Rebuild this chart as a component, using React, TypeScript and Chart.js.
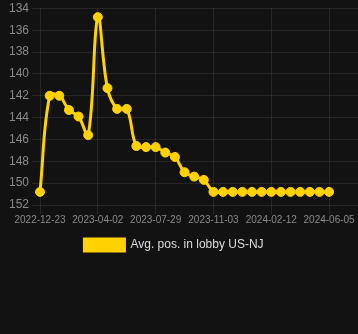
import React, { useEffect, useRef } from "react";
import { Chart, registerables } from "chart.js";

Chart.register(...registerables);

const dates: string[] = [
  "2022-12-23", "2023-01-09", "2023-01-26", "2023-02-12", "2023-03-01", "2023-03-17",
  "2023-04-02", "2023-04-22", "2023-05-12", "2023-05-31", "2023-06-20", "2023-07-09",
  "2023-07-29", "2023-08-14", "2023-08-30", "2023-09-15", "2023-10-01", "2023-10-17",
  "2023-11-03", "2023-11-20", "2023-12-07", "2023-12-24", "2024-01-09", "2024-01-26",
  "2024-02-12", "2024-03-02", "2024-03-21", "2024-04-09", "2024-04-28", "2024-05-17",
  "2024-06-05", "2024-06-24", "2024-07-13", "2024-08-01",
];

const avgPos: number[] = [
  150.8, 142.0, 142.0, 143.3, 143.9, 145.6,
  134.8, 141.3, 143.2, 143.2, 146.6, 146.7,
  146.7, 147.2, 147.6, 149.0, 149.4, 149.7,
  150.8, 150.8, 150.8, 150.8, 150.8, 150.8,
  150.8, 150.8, 150.8, 150.8, 150.8, 150.8,
  150.8,
];

const seriesLabel = "Avg. pos. in lobby US-NJ";
const yMin = 134;
const yMax = 152;
const labelEvery = 6;
const lastLabelled = 30;

const YELLOW = "#FFD200";
const GRID = "rgba(255,255,255,0.09)";
const TICK = "#8a8a8a";

const legendShift = {
  id: "legendShift",
  afterLayout(chart: any) {
    const lg = chart.legend;
    if (lg) {
      lg.left -= 8;
      lg.right -= 8;
    }
  },
};

export default function App() {
  const ref = useRef<HTMLCanvasElement | null>(null);

  useEffect(() => {
    if (!ref.current) return;
    const shown = (i: number) => i % labelEvery === 0 && i <= lastLabelled;
    const chart = new Chart(ref.current, {
      type: "line",
      data: {
        labels: dates,
        datasets: [
          {
            label: seriesLabel,
            data: avgPos,
            borderColor: YELLOW,
            backgroundColor: YELLOW,
            pointBackgroundColor: YELLOW,
            pointBorderColor: YELLOW,
            borderWidth: 3,
            pointRadius: 4.5,
            pointBorderWidth: 1,
            tension: 0.4,
          },
        ],
      },
      plugins: [legendShift],
      options: {
        animation: false,
        responsive: true,
        maintainAspectRatio: false,
        layout: { autoPadding: false, padding: { left: 6, right: 0, top: 0, bottom: 0 } },
        plugins: {
          legend: {
            position: "bottom",
            labels: {
              color: "#dddddd",
              font: { size: 12, family: "Arial, 'Liberation Sans', sans-serif" },
              boxWidth: 40,
              boxHeight: 12,
            },
          },
          tooltip: { enabled: false },
        },
        scales: {
          x: {
            type: "category",
            afterFit: (s: any) => {
              s.height += 3;
            },
            grid: {
              color: (ctx: any) => (shown(ctx.index) ? GRID : "rgba(0,0,0,0)"),
              tickLength: 9,
            },
            border: { display: false },
            ticks: {
              autoSkip: false,
              maxRotation: 0,
              padding: 0,
              color: TICK,
              font: { size: 10, family: "Arial, 'Liberation Sans', sans-serif" },
              callback: (_v: any, i: number) => (shown(i) ? dates[i] : ""),
            },
          },
          y: {
            reverse: true,
            min: yMin,
            max: yMax,
            grid: { color: GRID, tickLength: 8 },
            border: { display: false },
            ticks: {
              stepSize: 2,
              color: TICK,
              font: { size: 12, lineHeight: 0.9, family: "Arial, 'Liberation Sans', sans-serif" },
            },
          },
        },
      },
    });
    return () => chart.destroy();
  }, []);

  return (
    <div style={{ position: "fixed", left: 0, top: 0, width: 358, height: 334, background: "#121212" }}>
      <div style={{ position: "relative", width: 358, height: 261 }}>
        <canvas ref={ref} />
      </div>
    </div>
  );
}
